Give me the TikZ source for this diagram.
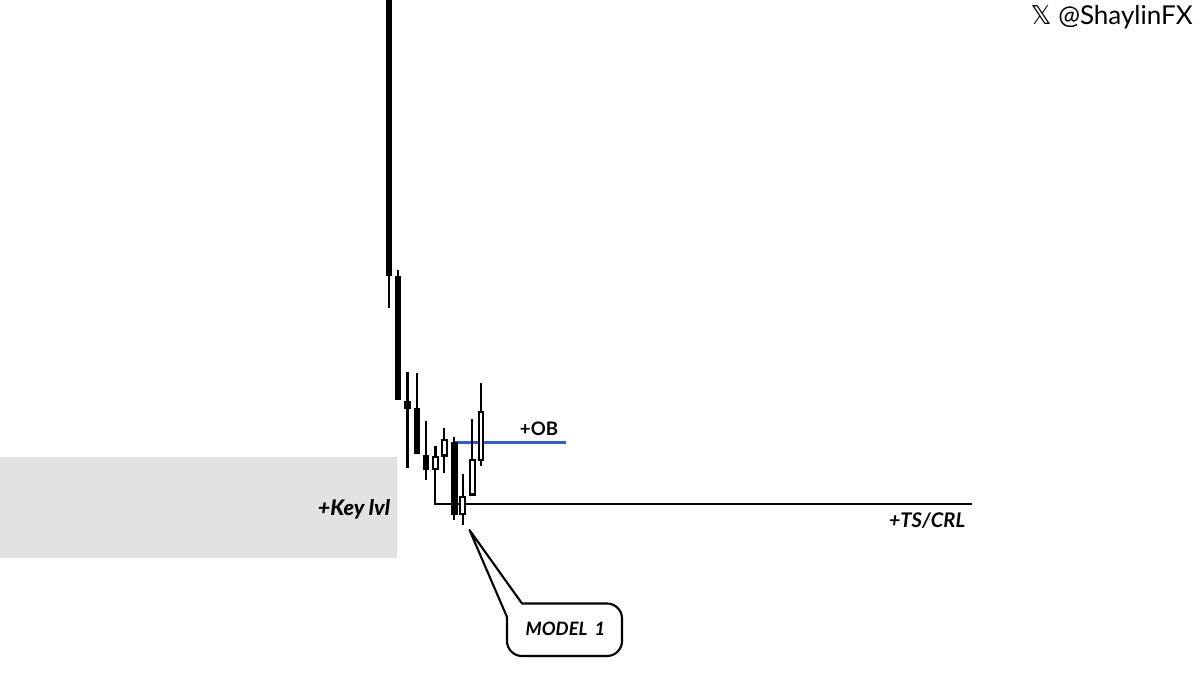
\documentclass[tikz,border=0pt]{standalone}
\usepackage{fontspec}
\setmainfont{Lato}
\newfontfamily\symbfont{DejaVu Sans}
\newfontfamily\heavyfont{Lato Black Italic}
\usepackage{tikz}
\definecolor{keygray}{HTML}{E2E2E4}
\definecolor{obblue}{HTML}{2F5BDC}
\tikzset{
  wick/.style={draw=black,line width=1.15pt},
  bearbody/.style={fill=black},
  bullbody/.style={fill=white,draw=black,line width=1.2pt},
  levelline/.style={draw=black,line width=1.15pt},
  tag/.style={font=\bfseries\itshape,text=black,inner sep=0pt},
}
\begin{document}
\begin{tikzpicture}[x=0.02cm,y=-0.02cm]
\useasboundingbox (0,0) rectangle (1200,675);
\fill[keygray] (0,457) rectangle (397,558);
% levels
\coordinate (obleft) at (455,442.5);
\coordinate (obright) at (566,442.5);
\coordinate (tsleft) at (435,504);
\coordinate (tsright) at (972,504);
\coordinate (tsup) at (435,469);
\draw[obblue,line width=1.9pt] (obleft) -- (obright);
\draw[levelline] (tsup) -- (tsleft) -- (tsright);
% bearish candles: x, half width, body top, body bottom, wick top, wick bottom
\foreach \cx/\hw/\bt/\bb/\wt/\wb in {
  389/3.2/0/276/0/308,
  398/3.3/276/400/270/400,
  407.5/3.5/401/409/372/468,
  417/3.4/408/454/373/454,
  426/3.3/455/469.5/421/480,
  454.2/3.5/441.5/515/437/520}{
  \draw[wick] (\cx,\wt) -- (\cx,\wb);
  \fill[bearbody] (\cx-\hw,\bt) rectangle (\cx+\hw,\bb);
}
% bullish candles
\foreach \cx/\hw/\bt/\bb/\wt/\wb in {
  435.5/2.8/457/469/446/469,
  444.3/2.6/440/455.5/428/473,
  462.7/2.6/497/514/474/525,
  472.3/2.6/460/494.5/419/494.5,
  481/2.4/412/460/383/466}{
  \draw[wick] (\cx,\wt) -- (\cx,\wb);
  \draw[bullbody] (\cx-\hw,\bt) rectangle (\cx+\hw,\bb);
}
% callout
\coordinate (calltip) at (469.5,530);
\draw[line width=1.2pt,line join=round] (calltip) -- (522,603.5) -- (607,603.5)
  arc[start angle=-90,end angle=0,radius=15] -- (622,641)
  arc[start angle=0,end angle=90,radius=15] -- (522,656)
  arc[start angle=90,end angle=180,radius=15] -- (507,617) -- cycle;
\node[tag,font=\itshape\bfseries\fontsize{10.5pt}{12pt}\selectfont] (modellabel) at (565.5,629) {MODEL\, 1};
\node[tag,font=\bfseries\fontsize{10.6pt}{12pt}\selectfont] (oblabel) at (539,429) {+OB};
\node[tag,font=\heavyfont\fontsize{12.2pt}{14pt}\selectfont] (keylabel) at (354,509) {+Key lvl};
\node[tag,font=\itshape\bfseries\fontsize{11.5pt}{13pt}\selectfont] (tslabel) at (927,520.5) {+TS/CRL};
\node[inner sep=0pt,anchor=east,font=\fontsize{14.8pt}{17pt}\selectfont] (handle) at (1193,17) {{\symbfont\symbol{"1D54F}} @ShaylinFX};
\end{tikzpicture}
\end{document}
